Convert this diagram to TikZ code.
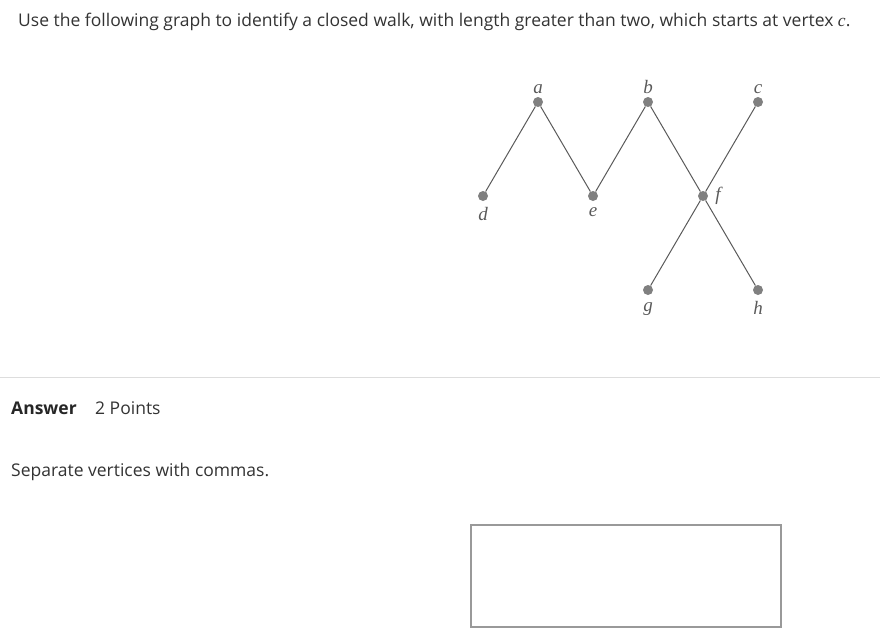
\documentclass[tikz,border=0pt]{standalone}
\usepackage{fontspec}
\usetikzlibrary{positioning}
\setmainfont{Open Sans}
\newfontfamily\lblfont{Liberation Serif}
\definecolor{edgegray}{HTML}{5A5A5A}
\definecolor{dotgray}{HTML}{808080}
\definecolor{rulegray}{HTML}{DDDDDD}
\definecolor{boxgray}{HTML}{999999}
\definecolor{textgray}{HTML}{333333}
\tikzset{
  vertex/.style={circle,fill=dotgray,inner sep=0pt,minimum size=10pt},
  lbl/.style={font=\lblfont\itshape\fontsize{19}{19}\selectfont,text=edgegray,inner sep=0pt},
  edge/.style={edgegray,line width=1pt},
  txt/.style={anchor=west,font=\fontsize{17.5}{20}\selectfont,text=textgray,inner sep=0pt}
}
\begin{document}
\begin{tikzpicture}[x=1pt,y=-1pt]
\useasboundingbox (0,0) rectangle (880,633);
% Question
\node[txt] (q) at (18,22) {Use the following graph to identify a closed walk, with length greater than two, which starts at vertex {\lblfont\itshape c}.};

% Vertices
\node[vertex] (a) at (538,102) {};
\node[vertex] (b) at (648,102) {};
\node[vertex] (c) at (758,102) {};
\node[vertex] (d) at (483,196) {};
\node[vertex] (e) at (593,196) {};
\node[vertex] (f) at (703,196) {};
\node[vertex] (g) at (648,290) {};
\node[vertex] (h) at (758,290) {};

% Edges
\draw[edge] (d) -- (a) -- (e) -- (b) -- (f) -- (h);
\draw[edge] (c) -- (f) -- (g);

% Labels
\node[lbl,above=3pt of a] (la) {a};
\node[lbl,above=3pt of b] (lb) {b};
\node[lbl,above=3pt of c] (lc) {c};
\node[lbl,below=6pt of d] (ld) {d};
\node[lbl,below=6pt of e] (le) {e};
\node[lbl,right=7pt of f] (lf) {f};
\node[lbl,below=7pt of g] (lg) {g};
\node[lbl,below=6pt of h] (lh) {h};

% Answer part
\draw[rulegray,line width=1pt] (0,377) -- (880,377);
\node[txt,font=\bfseries\fontsize{17.5}{20}\selectfont,text=black!85] (ans) at (11,408) {Answer};
\node[txt] (pts) at (95,408) {2 Points};
\node[txt] (sep) at (11,472) {Separate vertices with commas.};
\draw[boxgray,line width=1.5pt] (471,525) rectangle (781,627);
\end{tikzpicture}
\end{document}
